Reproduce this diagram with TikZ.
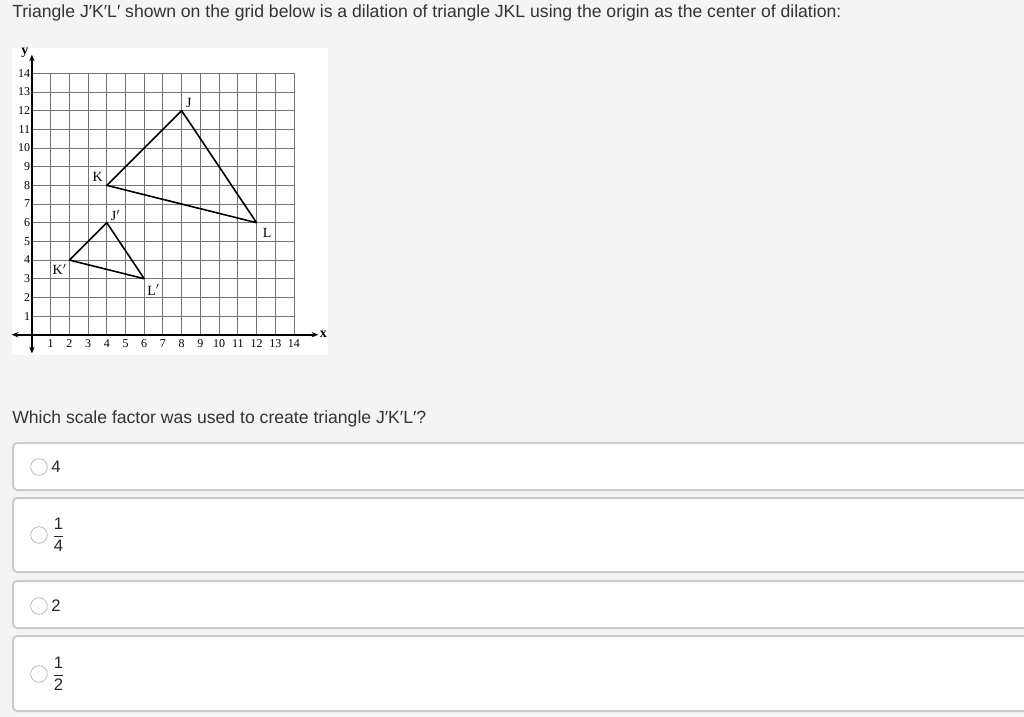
\documentclass[tikz,border=0pt]{standalone}
\usepackage{amsmath}
\usepackage{fontspec}
\setmainfont{Liberation Sans}
\newfontfamily\gridfont{Liberation Serif}
\usepackage{xcolor}
\usetikzlibrary{positioning}
\usetikzlibrary{arrows.meta}
\definecolor{pagebg}{HTML}{F4F4F4}
\definecolor{boxline}{HTML}{CCCCCC}
\definecolor{radioline}{HTML}{B8B8B8}
\definecolor{textgray}{HTML}{333333}

\begin{document}
\begin{tikzpicture}[x=0.75pt,y=-0.75pt]
% Define styles
\tikzstyle{prompt} = [anchor=base west, inner sep=0pt, text=textgray, font=\fontsize{13.2}{15}\selectfont]
\tikzstyle{answerbox} = [draw=boxline, line width=1.5pt, fill=white, rounded corners=3pt]
\tikzstyle{radio} = [circle, draw=radioline, line width=0.6pt, fill=white, inner sep=0pt, minimum size=12.5pt]
\tikzstyle{choice} = [anchor=west, inner sep=0pt, text=black!85, font=\fontsize{12.5}{14}\selectfont]
\tikzstyle{gridline} = [draw=black!55, line width=0.7pt]
\tikzstyle{axis} = [black, line width=1.2pt, <->, >={Stealth[length=5pt,width=4pt]}]
\tikzstyle{side} = [black, line width=1.2pt, line join=round]
\tikzstyle{vlabel} = [inner sep=0pt, font=\gridfont\fontsize{10.5}{11}\selectfont]
\tikzstyle{ticklabel} = [inner sep=0pt, font=\gridfont\fontsize{9}{10}\selectfont]

% Page
\useasboundingbox (0,0) rectangle (1024,717);
\clip (0,0) rectangle (1024,717);
\fill[pagebg] (0,0) rectangle (1024,717);

% Texts
\node[prompt] (title) at (12,18) {Triangle J′K′L′ shown on the grid below is a dilation of triangle JKL using the origin as the center of dilation:};
\node[prompt] (question) at (12,423) {Which scale factor was used to create triangle J′K′L′?};

% Graph
\fill[white] (12,48) rectangle (328,355);
\begin{scope}[shift={(23.93pt,-251.03pt)}, x=14.04pt, y=14.0pt]
\draw[gridline, step=1] (0,0) grid (14,14);
\coordinate (xl) at (-1.08,0);
\coordinate (xr) at (15.3,0);
\coordinate (yb) at (0,-1);
\coordinate (yt) at (0,15);
\draw[axis] (xl) -- (xr);
\draw[axis] (yb) -- (yt);
\node[vlabel, font=\gridfont\bfseries\fontsize{10.5}{11}\selectfont, right=1pt of xr] (xlab) {x};
\node[vlabel, font=\gridfont\bfseries\fontsize{10.5}{11}\selectfont] (ylab) at (-0.37,15.12) {y};
\foreach \n in {1,...,14} {
  \node[ticklabel] (xt\n) at (\n,-0.46) {\n};
  \node[ticklabel, anchor=east] (yt\n) at (-0.08,\n) {\n};
}
% Triangle JKL
\coordinate (J) at (8,12);
\coordinate (K) at (4,8);
\coordinate (L) at (12,6);
\draw[side] (J) -- (K) -- (L) -- cycle;
\node[vlabel] (Jlab) at (8.38,12.42) {J};
\node[vlabel] (Klab) at (3.52,8.43) {K};
\node[vlabel] (Llab) at (12.56,5.43) {L};
% Triangle J'K'L'
\coordinate (Jp) at (4,6);
\coordinate (Kp) at (2,4);
\coordinate (Lp) at (6,3);
\draw[side] (Jp) -- (Kp) -- (Lp) -- cycle;
\node[vlabel] (Jplab) at (4.46,6.4) {J$'$};
\node[vlabel] (Kplab) at (1.48,3.5) {K$'$};
\node[vlabel] (Lplab) at (6.5,2.4) {L$'$};
\end{scope}

% Answer choices
\draw[answerbox] (13,443) rectangle (1040,490);
\draw[answerbox] (13,498) rectangle (1040,572);
\draw[answerbox] (13,581) rectangle (1040,628);
\draw[answerbox] (13,636) rectangle (1040,711);
\node[radio] (r1) at (39,467) {};
\node[radio] (r2) at (39,535) {};
\node[radio] (r3) at (39,606) {};
\node[radio] (r4) at (39,674) {};
\node[choice] (c1) at (51,467) {4};
\node[choice] (c2) at (52,535) {$\dfrac{\text{1}}{\text{4}}$};
\node[choice] (c3) at (51,606) {2};
\node[choice] (c4) at (52,674) {$\dfrac{\text{1}}{\text{2}}$};
\end{tikzpicture}
\end{document}
